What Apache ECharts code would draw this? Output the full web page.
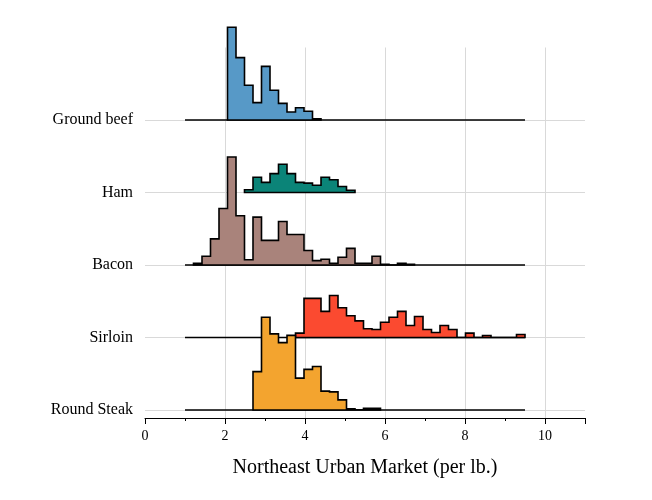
<!DOCTYPE html>
<html>
<head>
<meta charset="utf-8">
<script src="https://cdn.jsdelivr.net/npm/echarts@6/dist/echarts.min.js"></script>
<style>
  html, body { margin: 0; padding: 0; background: #fff; }
  #chart { width: 652px; height: 500px; }
</style>
</head>
<body>
<div id="chart"></div>
<script>
// rows from bottom to top (row index = y value of the baseline)
const foods = ['Round Steak', 'Sirloin', 'Bacon', 'Ham', 'Ground beef'];
const colors = ['#f3a42f', '#fb4a30', '#a9837b', '#0b8478', '#5799c7'];
const hasBaseline = [true, true, true, false, true];

// all histograms share 40 bins between binLo and binHi
const binLo = 1;
const binHi = 9.5;

// bar heights, in rows (1 = gap between two baselines)
const roundSteak = [0, 0, 0, 0, 0, 0, 0, 0,
  0.53, 1.28, 1.05, 0.93, 1.03, 0.44, 0.56, 0.60, 0.26, 0.25, 0.14, 0.018, 0.004, 0.023, 0.023,
  0, 0, 0, 0, 0, 0, 0, 0, 0, 0, 0, 0, 0, 0, 0, 0, 0];
const sirloin = [0, 0, 0, 0, 0, 0, 0, 0, 0, 0, 0, 0, 0,
  0.06, 0.54, 0.54, 0.36, 0.58, 0.41, 0.30, 0.23, 0.12, 0.11, 0.21, 0.28, 0.36, 0.165,
  0.29, 0.11, 0.07, 0.165, 0.11, 0, 0.06, 0, 0.028, 0, 0, 0, 0.041];
const bacon = [0,
  0.023, 0.12, 0.36, 0.78, 1.49, 0.68, 0.073, 0.66, 0.34, 0.34, 0.60, 0.42, 0.42,
  0.20, 0.06, 0.08, 0.025, 0.106, 0.23, 0.025, 0.025, 0.12, 0.01, 0, 0.023, 0.01,
  0, 0, 0, 0, 0, 0, 0, 0, 0, 0, 0, 0, 0];
const ham = [0, 0, 0, 0, 0, 0, 0,
  0.037, 0.21, 0.14, 0.26, 0.39, 0.26, 0.14, 0.13, 0.10, 0.21, 0.175, 0.083, 0.032,
  0, 0, 0, 0, 0, 0, 0, 0, 0, 0, 0, 0, 0, 0, 0, 0, 0, 0, 0, 0];
const groundBeef = [0, 0, 0, 0, 0,
  1.28, 0.86, 0.48, 0.24, 0.74, 0.41, 0.23, 0.11, 0.17, 0.12, 0.015,
  0, 0, 0, 0, 0, 0, 0, 0, 0, 0, 0, 0, 0, 0, 0, 0, 0, 0, 0, 0, 0, 0, 0, 0];

const heightsByRow = [roundSteak, sirloin, bacon, ham, groundBeef];

const font = 'Liberation Serif';
const gridColor = '#d9d9d9';

function renderRow(params, api) {
  const row = api.value(0);
  const heights = heightsByRow[row];
  const n = heights.length;
  const w = (binHi - binLo) / n;
  let first = 0;
  while (heights[first] === 0) first++;
  let last = n - 1;
  while (heights[last] === 0) last--;

  const pts = [api.coord([binLo + first * w, row])];
  for (let k = first; k <= last; k++) {
    pts.push(api.coord([binLo + k * w, row + heights[k]]));
    pts.push(api.coord([binLo + (k + 1) * w, row + heights[k]]));
  }
  pts.push(api.coord([binLo + (last + 1) * w, row]));

  const children = [];
  if (hasBaseline[row]) {
    const a = api.coord([binLo, row]);
    const b = api.coord([binHi, row]);
    children.push({
      type: 'line',
      shape: { x1: a[0], y1: a[1], x2: b[0], y2: b[1] },
      style: { stroke: '#000', lineWidth: 1.6 }
    });
  }
  children.push({
    type: 'polygon',
    shape: { points: pts },
    style: { fill: colors[row], stroke: '#000', lineWidth: 1.6 }
  });
  return { type: 'group', children: children };
}

const chart = echarts.init(document.getElementById('chart'));
chart.setOption({
  animation: false,
  grid: [
    { left: 145, right: 67, top: 47.5, bottom: 90 },
    { left: 145, right: 67, top: 47.5, bottom: 82 }
  ],
  xAxis: [
    { gridIndex: 0, type: 'value', min: 0, max: 11, show: false },
    {
      gridIndex: 1,
      type: 'value',
      min: 0,
      max: 11,
      interval: 2,
      name: 'Northeast Urban Market (per lb.)',
      nameLocation: 'middle',
      nameGap: 40,
      nameTextStyle: { fontFamily: font, fontSize: 20, color: '#000' },
      axisLine: { lineStyle: { color: '#000', width: 1 } },
      axisTick: { length: 6, lineStyle: { color: '#000' } },
      minorTick: { show: true, splitNumber: 2, length: 3, lineStyle: { color: '#000' } },
      splitLine: { show: true, showMinLine: false, showMaxLine: false, lineStyle: { color: gridColor } },
      axisLabel: { fontFamily: font, fontSize: 14, color: '#000', margin: 11, showMaxLabel: false }
    }
  ],
  yAxis: [
    {
      gridIndex: 0,
      type: 'value',
      min: 0,
      max: 5,
      interval: 1,
      axisLine: { show: false },
      axisTick: { show: false },
      splitLine: { show: true, showMaxLine: false, lineStyle: { color: gridColor } },
      axisLabel: {
        fontFamily: font,
        fontSize: 16,
        color: '#000',
        margin: 12,
        formatter: function (v) { return foods[v] || ''; }
      }
    },
    { gridIndex: 1, type: 'value', min: 0, max: 1, show: false }
  ],
  series: [
    {
      type: 'custom',
      xAxisIndex: 0,
      yAxisIndex: 0,
      renderItem: renderRow,
      clip: false,
      // draw top row first so lower rows overlap it
      data: [[4], [3], [2], [1], [0]]
    }
  ]
});
</script>
</body>
</html>
